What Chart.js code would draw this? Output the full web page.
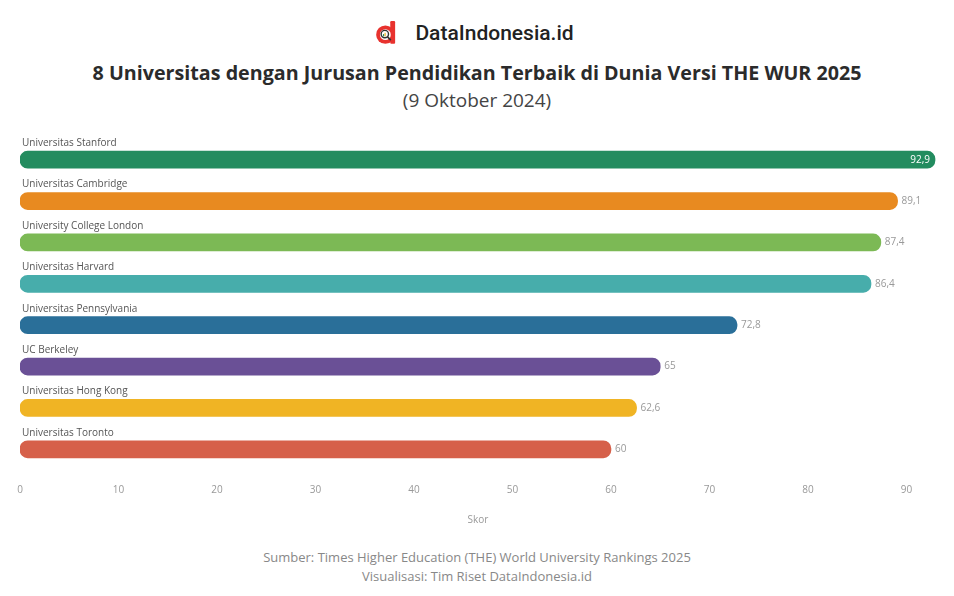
<!DOCTYPE html>
<html lang="id">
<head>
<meta charset="utf-8">
<title>Jurusan Pendidikan Terbaik THE WUR 2025</title>
<script src="https://cdn.jsdelivr.net/npm/chart.js@4.4.1/dist/chart.umd.min.js"></script>
<style>
    html, body { margin: 0; padding: 0; background: #fff; }
    body { width: 954px; height: 596px; position: relative; overflow: hidden; font-family: "Open Sans", "Noto Sans", sans-serif; }
    .brand { position: absolute; top: 20px; left: 0; width: 954px; display: flex; justify-content: center; align-items: center; gap: 15px; }
    .brand svg { margin-left: -6px; }
    .brand span { font-family: Roboto, sans-serif; font-weight: 500; font-size: 21px; color: #222; }
    .title { position: absolute; top: 59px; left: 0; width: 954px; text-align: center; font-weight: 700; font-size: 19.7px; color: #2b2b2b; }
    .subtitle { position: absolute; top: 87px; left: 0; width: 954px; text-align: center; font-size: 19px; color: #444; }
    .chart-wrap { position: absolute; top: 130px; left: 0; width: 954px; height: 400px; }
    .footer { position: absolute; top: 548px; left: 0; width: 954px; text-align: center; font-size: 13px; line-height: 19px; color: #888; }
</style>
</head>
<body>
<div class="brand">
    <svg width="26" height="26" viewBox="0 0 24 24">
        <circle cx="10.5" cy="13.5" r="8.5" fill="#e8322e"/>
        <rect x="15" y="1" width="4.5" height="21" rx="1" fill="#e8322e"/>
        <circle cx="10.5" cy="13.5" r="5" fill="#fff"/>
        <circle cx="10" cy="13" r="3.4" fill="none" stroke="#333" stroke-width="1.3"/>
        <rect x="8.3" y="13" width="1.1" height="2" fill="#2a8c5f"/>
        <rect x="9.7" y="11.8" width="1.1" height="3.2" fill="#f0b424"/>
        <line x1="12.5" y1="15.6" x2="15.5" y2="18.6" stroke="#333" stroke-width="1.6"/>
    </svg>
    <span>DataIndonesia.id</span>
</div>
<div class="title">8 Universitas dengan Jurusan Pendidikan Terbaik di Dunia Versi THE WUR 2025</div>
<div class="subtitle">(9 Oktober 2024)</div>
<div class="chart-wrap"><canvas id="univChart"></canvas></div>
<div class="footer">
    Sumber: Times Higher Education (THE) World University Rankings 2025<br>
    Visualisasi: Tim Riset DataIndonesia.id
</div>

<script>
// Data
const universities = [
    'Universitas Stanford',
    'Universitas Cambridge',
    'University College London',
    'Universitas Harvard',
    'Universitas Pennsylvania',
    'UC Berkeley',
    'Universitas Hong Kong',
    'Universitas Toronto'
];
const scores = [92.9, 89.1, 87.4, 86.4, 72.8, 65, 62.6, 60];
const barColors = ['#238c5f', '#e88a20', '#7cb955', '#47adab', '#2a6f99', '#6a5096', '#f0b424', '#d6604a'];
const xTicks = [0, 10, 20, 30, 40, 50, 60, 70, 80, 90];

function formatScore(v) {
    return v.toLocaleString('id-ID', { maximumFractionDigits: 1 });
}

// Labels above each bar and values at the bar end
const barLabels = {
    id: 'barLabels',
    afterDatasetsDraw(chart) {
        const ctx = chart.ctx;
        const meta = chart.getDatasetMeta(0);
        ctx.save();
        meta.data.forEach((bar, i) => {
            const h = bar.height;
            ctx.font = '10px "Open Sans", sans-serif';
            ctx.fillStyle = '#555';
            ctx.textAlign = 'left';
            ctx.textBaseline = 'bottom';
            ctx.fillText(universities[i], bar.base + 2, bar.y - h / 2 - 3);

            const txt = formatScore(scores[i]);
            ctx.textBaseline = 'middle';
            const w = ctx.measureText(txt).width;
            if (bar.x + w + 6 > chart.chartArea.right + 10) {
                ctx.fillStyle = '#ffffff';
                ctx.textAlign = 'right';
                ctx.fillText(txt, bar.x - 5, bar.y);
            } else {
                ctx.fillStyle = '#999';
                ctx.textAlign = 'left';
                ctx.fillText(txt, bar.x + 4, bar.y);
            }
        });
        ctx.restore();
    }
};

const ctx = document.getElementById('univChart').getContext('2d');
new Chart(ctx, {
    type: 'bar',
    data: {
        labels: universities,
        datasets: [{
            data: scores,
            backgroundColor: barColors,
            borderRadius: 8,
            borderSkipped: false,
            barThickness: 17
        }]
    },
    options: {
        indexAxis: 'y',
        responsive: true,
        maintainAspectRatio: false,
        animation: false,
        layout: { padding: { left: 20, right: 18, top: 9, bottom: 0 } },
        plugins: {
            legend: { display: false },
            tooltip: { enabled: false }
        },
        scales: {
            y: { display: false },
            x: {
                min: 0,
                max: 93,
                afterBuildTicks(axis) {
                    axis.ticks = xTicks.map(v => ({ value: v }));
                },
                grid: { display: false },
                border: { display: false },
                ticks: {
                    color: '#999',
                    font: { size: 10, family: 'Open Sans' },
                    padding: 6
                },
                title: {
                    display: true,
                    text: 'Skor',
                    color: '#999',
                    font: { size: 10, family: 'Open Sans' },
                    padding: { top: 12 }
                }
            }
        }
    },
    plugins: [barLabels]
});
</script>
</body>
</html>
